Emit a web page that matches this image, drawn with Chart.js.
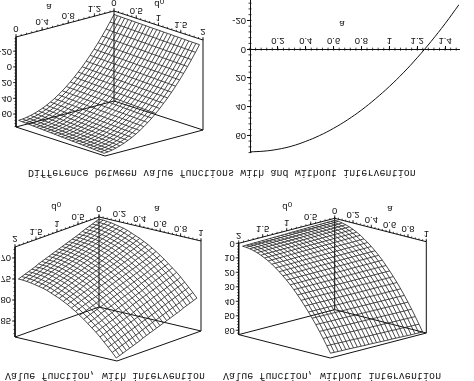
<!DOCTYPE html>
<html>
<head>
<meta charset="utf-8">
<script src="https://cdn.jsdelivr.net/npm/chart.js@4"></script>
<style>
html, body { margin: 0; background: #fff; }
#page { position: relative; width: 474px; height: 381px; overflow: hidden; transform: scaleY(-1); }
#page canvas { position: absolute; }
.cap { position: absolute; font: 10px "Liberation Mono"; letter-spacing: 0.06px; white-space: pre; color: #111; }
</style>
</head>
<body>
<div id="page">
  <canvas id="c1" width="215" height="165" style="left:0;bottom:0"></canvas>
  <canvas id="c2" width="259" height="178" style="left:216px;bottom:-8px"></canvas>
  <canvas id="c3" width="225" height="170" style="left:0;bottom:195px"></canvas>
  <canvas id="c4" width="249" height="170" style="left:225px;bottom:195px"></canvas>
  <div class="cap" style="left:28px;bottom:167px">Difference between value functions with and without intervention</div>
  <div class="cap" style="left:5px;bottom:370px">Value function, with intervention</div>
  <div class="cap" style="left:223px;bottom:370px">Value function, without intervention</div>
</div>
<script>
// curve panel
const curveA = [0, 0.1, 0.2, 0.3, 0.4, 0.5, 0.6, 0.7, 0.8, 0.9, 1, 1.1, 1.2, 1.3, 1.4, 1.5];
const curveZ = [71.5, 71, 69.7, 67.5, 64.2, 60.1, 55.1, 49.2, 42.4, 34.6, 26, 16.5, 6, -5.4, -17.7, -31];
const curveXTicks = [0.2, 0.4, 0.6, 0.8, 1, 1.2, 1.4];
const curveYTicks = [-20, 0, 20, 40, 60];

// surface grids
const aGrid1 = [0.04, 0.101, 0.162, 0.222, 0.283, 0.344, 0.405, 0.466, 0.527, 0.588, 0.648, 0.709, 0.77, 0.831, 0.892, 0.952, 1.013, 1.074, 1.135, 1.196, 1.257, 1.318, 1.378, 1.439, 1.5];
const aGrid2 = [0, 0.04, 0.08, 0.12, 0.16, 0.2, 0.24, 0.28, 0.32, 0.36, 0.4, 0.44, 0.48, 0.52, 0.56, 0.6, 0.64, 0.68, 0.72, 0.76, 0.8, 0.84, 0.88, 0.92, 0.96];
const dGrid = [0, 0.08, 0.16, 0.24, 0.32, 0.4, 0.48, 0.56, 0.64, 0.72, 0.8, 0.88, 0.96, 1.04, 1.12, 1.2, 1.28, 1.36, 1.44, 1.52, 1.6, 1.68, 1.76, 1.84, 1.92];

// rows follow a, columns follow d0
const zDiff = [
  [68.9,69.2,69.4,69.7,70,70.3,70.5,70.8,71.1,71.3,71.6,71.9,72.2,72.4,72.7,73,73.2,73.5,73.8,74,74.3,74.6,74.9,75.1,75.4],
  [68.5,68.8,69,69.3,69.6,69.8,70.1,70.4,70.6,70.9,71.2,71.4,71.7,71.9,72.2,72.5,72.7,73,73.3,73.5,73.8,74.1,74.3,74.6,74.9],
  [67.8,68.1,68.3,68.6,68.8,69.1,69.4,69.6,69.9,70.1,70.4,70.6,70.9,71.2,71.4,71.7,71.9,72.2,72.5,72.7,73,73.2,73.5,73.8,74],
  [66.7,67,67.2,67.5,67.7,68,68.2,68.5,68.7,69,69.2,69.5,69.7,70,70.2,70.5,70.7,71,71.3,71.5,71.8,72,72.3,72.5,72.8],
  [65.3,65.5,65.8,66,66.3,66.5,66.8,67,67.3,67.5,67.8,68,68.3,68.5,68.8,69,69.3,69.5,69.7,70,70.2,70.5,70.7,71,71.2],
  [63.6,63.8,64.1,64.3,64.6,64.8,65,65.3,65.5,65.8,66,66.3,66.5,66.7,67,67.2,67.5,67.7,67.9,68.2,68.4,68.7,68.9,69.1,69.4],
  [61.5,61.7,62,62.2,62.4,62.7,62.9,63.1,63.4,63.6,63.9,64.1,64.3,64.6,64.8,65,65.3,65.5,65.7,66,66.2,66.4,66.7,66.9,67.1],
  [59.1,59.3,59.6,59.8,60,60.2,60.5,60.7,60.9,61.2,61.4,61.6,61.8,62.1,62.3,62.5,62.8,63,63.2,63.5,63.7,63.9,64.1,64.4,64.6],
  [56.3,56.5,56.7,57,57.2,57.4,57.6,57.9,58.1,58.3,58.5,58.8,59,59.2,59.4,59.6,59.9,60.1,60.3,60.5,60.8,61,61.2,61.4,61.7],
  [53.3,53.5,53.7,53.9,54.2,54.4,54.6,54.8,55,55.3,55.5,55.7,55.9,56.1,56.3,56.6,56.8,57,57.2,57.4,57.6,57.9,58.1,58.3,58.5],
  [49.8,50,50.2,50.4,50.6,50.9,51.1,51.3,51.5,51.7,51.9,52.1,52.3,52.5,52.8,53,53.2,53.4,53.6,53.8,54,54.2,54.4,54.7,54.9],
  [46.1,46.3,46.5,46.7,46.9,47.1,47.3,47.5,47.7,47.9,48.2,48.4,48.6,48.8,49,49.2,49.4,49.6,49.8,50,50.2,50.4,50.6,50.8,51],
  [42,42.2,42.4,42.6,42.8,43,43.2,43.4,43.6,43.8,44,44.2,44.4,44.6,44.8,45,45.2,45.4,45.6,45.8,46,46.2,46.4,46.6,46.8],
  [37.5,37.7,37.9,38.1,38.3,38.5,38.7,38.9,39,39.2,39.4,39.6,39.8,40,40.2,40.4,40.6,40.8,41,41.2,41.4,41.6,41.7,41.9,42.1],
  [32.7,32.9,33.1,33.3,33.4,33.6,33.8,34,34.2,34.4,34.6,34.8,34.9,35.1,35.3,35.5,35.7,35.9,36.1,36.3,36.4,36.6,36.8,37,37.2],
  [27.6,27.8,28,28.1,28.3,28.5,28.7,28.9,29,29.2,29.4,29.6,29.8,29.9,30.1,30.3,30.5,30.7,30.9,31,31.2,31.4,31.6,31.8,31.9],
  [22.2,22.4,22.6,22.7,22.9,23.1,23.3,23.4,23.6,23.8,24,24.1,24.3,24.5,24.7,24.8,25,25.2,25.4,25.5,25.7,25.9,26.1,26.2,26.4],
  [16.4,16.6,16.7,16.9,17.1,17.2,17.4,17.6,17.8,17.9,18.1,18.3,18.4,18.6,18.8,18.9,19.1,19.3,19.4,19.6,19.8,20,20.1,20.3,20.5],
  [10.2,10.4,10.5,10.7,10.9,11,11.2,11.3,11.5,11.7,11.8,12,12.2,12.3,12.5,12.6,12.8,13,13.1,13.3,13.5,13.6,13.8,13.9,14.1],
  [3.8,4,4.1,4.3,4.4,4.6,4.7,4.9,5.1,5.2,5.4,5.5,5.7,5.8,6,6.2,6.3,6.5,6.6,6.8,6.9,7.1,7.3,7.4,7.6],
  [-3,-2.8,-2.7,-2.5,-2.4,-2.2,-2.1,-1.9,-1.8,-1.6,-1.5,-1.3,-1.2,-1,-0.9,-0.7,-0.6,-0.4,-0.3,-0.1,0,0.2,0.3,0.5,0.6],
  [-10.2,-10.1,-9.9,-9.8,-9.6,-9.5,-9.3,-9.2,-9,-8.9,-8.8,-8.6,-8.5,-8.3,-8.2,-8,-7.9,-7.7,-7.6,-7.4,-7.3,-7.2,-7,-6.9,-6.7],
  [-17.6,-17.5,-17.3,-17.2,-17,-16.9,-16.8,-16.6,-16.5,-16.3,-16.2,-16.1,-15.9,-15.8,-15.7,-15.5,-15.4,-15.2,-15.1,-15,-14.8,-14.7,-14.5,-14.4,-14.3],
  [-25.4,-25.3,-25.1,-25,-24.9,-24.7,-24.6,-24.5,-24.3,-24.2,-24.1,-24,-23.8,-23.7,-23.5,-23.4,-23.3,-23.1,-23,-22.9,-22.7,-22.6,-22.5,-22.3,-22.2],
  [-33.6,-33.5,-33.3,-33.2,-33.1,-33,-32.8,-32.7,-32.6,-32.5,-32.3,-32.2,-32.1,-32,-31.8,-31.7,-31.6,-31.4,-31.3,-31.2,-31.1,-30.9,-30.8,-30.7,-30.6]
];
const zWith = [
  [67.9,68.2,68.5,68.8,69.1,69.4,69.8,70.1,70.4,70.7,71,71.3,71.6,71.9,72.2,72.5,72.8,73.1,73.4,73.8,74.1,74.4,74.7,75,75.3],
  [67.9,68.2,68.5,68.8,69.2,69.5,69.8,70.1,70.4,70.7,71,71.3,71.6,71.9,72.2,72.5,72.9,73.2,73.5,73.8,74.1,74.4,74.7,75,75.3],
  [68,68.3,68.6,68.9,69.2,69.5,69.8,70.2,70.5,70.8,71.1,71.4,71.7,72,72.3,72.6,72.9,73.2,73.5,73.8,74.2,74.5,74.8,75.1,75.4],
  [68.1,68.4,68.7,69,69.3,69.7,70,70.3,70.6,70.9,71.2,71.5,71.8,72.1,72.4,72.7,73,73.4,73.7,74,74.3,74.6,74.9,75.2,75.5],
  [68.3,68.6,68.9,69.2,69.5,69.8,70.1,70.4,70.7,71,71.4,71.7,72,72.3,72.6,72.9,73.2,73.5,73.8,74.1,74.4,74.7,75.1,75.4,75.7],
  [68.5,68.8,69.1,69.4,69.7,70,70.3,70.6,70.9,71.3,71.6,71.9,72.2,72.5,72.8,73.1,73.4,73.7,74,74.3,74.6,75,75.3,75.6,75.9],
  [68.7,69,69.4,69.7,70,70.3,70.6,70.9,71.2,71.5,71.8,72.1,72.4,72.7,73,73.4,73.7,74,74.3,74.6,74.9,75.2,75.5,75.8,76.1],
  [69,69.3,69.7,70,70.3,70.6,70.9,71.2,71.5,71.8,72.1,72.4,72.7,73,73.3,73.7,74,74.3,74.6,74.9,75.2,75.5,75.8,76.1,76.4],
  [69.4,69.7,70,70.3,70.6,70.9,71.2,71.5,71.8,72.2,72.5,72.8,73.1,73.4,73.7,74,74.3,74.6,74.9,75.2,75.5,75.9,76.2,76.5,76.8],
  [69.8,70.1,70.4,70.7,71,71.3,71.6,71.9,72.2,72.5,72.9,73.2,73.5,73.8,74.1,74.4,74.7,75,75.3,75.6,75.9,76.2,76.6,76.9,77.2],
  [70.2,70.5,70.8,71.1,71.4,71.8,72.1,72.4,72.7,73,73.3,73.6,73.9,74.2,74.5,74.8,75.1,75.5,75.8,76.1,76.4,76.7,77,77.3,77.6],
  [70.7,71,71.3,71.6,71.9,72.2,72.6,72.9,73.2,73.5,73.8,74.1,74.4,74.7,75,75.3,75.6,75.9,76.2,76.6,76.9,77.2,77.5,77.8,78.1],
  [71.2,71.5,71.9,72.2,72.5,72.8,73.1,73.4,73.7,74,74.3,74.6,74.9,75.2,75.5,75.9,76.2,76.5,76.8,77.1,77.4,77.7,78,78.3,78.6],
  [71.8,72.1,72.4,72.7,73,73.3,73.7,74,74.3,74.6,74.9,75.2,75.5,75.8,76.1,76.4,76.7,77,77.3,77.7,78,78.3,78.6,78.9,79.2],
  [72.4,72.7,73.1,73.4,73.7,74,74.3,74.6,74.9,75.2,75.5,75.8,76.1,76.4,76.7,77.1,77.4,77.7,78,78.3,78.6,78.9,79.2,79.5,79.8],
  [73.1,73.4,73.7,74,74.3,74.6,75,75.3,75.6,75.9,76.2,76.5,76.8,77.1,77.4,77.7,78,78.3,78.6,79,79.3,79.6,79.9,80.2,80.5],
  [73.8,74.1,74.4,74.7,75,75.4,75.7,76,76.3,76.6,76.9,77.2,77.5,77.8,78.1,78.4,78.7,79.1,79.4,79.7,80,80.3,80.6,80.9,81.2],
  [74.6,74.9,75.2,75.5,75.8,76.1,76.4,76.7,77,77.4,77.7,78,78.3,78.6,78.9,79.2,79.5,79.8,80.1,80.4,80.7,81.1,81.4,81.7,82],
  [75.4,75.7,76,76.3,76.6,76.9,77.2,77.5,77.8,78.2,78.5,78.8,79.1,79.4,79.7,80,80.3,80.6,80.9,81.2,81.5,81.9,82.2,82.5,82.8],
  [76.2,76.6,76.9,77.2,77.5,77.8,78.1,78.4,78.7,79,79.3,79.6,79.9,80.2,80.6,80.9,81.2,81.5,81.8,82.1,82.4,82.7,83,83.3,83.6],
  [77.1,77.5,77.8,78.1,78.4,78.7,79,79.3,79.6,79.9,80.2,80.5,80.8,81.1,81.5,81.8,82.1,82.4,82.7,83,83.3,83.6,83.9,84.2,84.5],
  [78.1,78.4,78.7,79,79.3,79.6,79.9,80.3,80.6,80.9,81.2,81.5,81.8,82.1,82.4,82.7,83,83.3,83.6,83.9,84.3,84.6,84.9,85.2,85.5],
  [79.1,79.4,79.7,80,80.3,80.6,80.9,81.2,81.5,81.9,82.2,82.5,82.8,83.1,83.4,83.7,84,84.3,84.6,84.9,85.2,85.6,85.9,86.2,86.5],
  [80.1,80.4,80.7,81,81.4,81.7,82,82.3,82.6,82.9,83.2,83.5,83.8,84.1,84.4,84.7,85.1,85.4,85.7,86,86.3,86.6,86.9,87.2,87.5],
  [81.2,81.5,81.8,82.1,82.4,82.8,83.1,83.4,83.7,84,84.3,84.6,84.9,85.2,85.5,85.8,86.1,86.5,86.8,87.1,87.4,87.7,88,88.3,88.6]
];
const zWithout = [
  [1.3,1.4,1.4,1.5,1.5,1.6,1.6,1.7,1.8,1.8,1.9,1.9,2,2.1,2.1,2.2,2.2,2.3,2.4,2.4,2.5,2.5,2.6,2.6,2.7],
  [1.4,1.5,1.5,1.6,1.6,1.7,1.7,1.8,1.9,1.9,2,2,2.1,2.2,2.2,2.3,2.3,2.4,2.5,2.5,2.6,2.6,2.7,2.7,2.8],
  [1.9,2,2,2.1,2.1,2.2,2.2,2.3,2.3,2.4,2.4,2.5,2.6,2.6,2.7,2.7,2.8,2.8,2.9,2.9,3,3,3.1,3.1,3.2],
  [2.5,2.6,2.6,2.7,2.7,2.8,2.8,2.9,2.9,3,3,3.1,3.2,3.2,3.3,3.3,3.4,3.4,3.5,3.5,3.6,3.6,3.7,3.7,3.8],
  [3.3,3.4,3.4,3.5,3.5,3.6,3.6,3.7,3.7,3.8,3.8,3.9,4,4,4.1,4.1,4.2,4.2,4.3,4.3,4.4,4.4,4.5,4.5,4.6],
  [4.4,4.5,4.5,4.6,4.6,4.7,4.7,4.8,4.8,4.9,4.9,5,5.1,5.1,5.2,5.2,5.3,5.3,5.4,5.4,5.5,5.5,5.6,5.6,5.7],
  [5.7,5.8,5.8,5.9,5.9,6,6,6.1,6.1,6.2,6.2,6.3,6.3,6.4,6.4,6.5,6.5,6.6,6.6,6.7,6.7,6.8,6.8,6.9,6.9],
  [7.2,7.2,7.3,7.3,7.4,7.4,7.5,7.5,7.6,7.6,7.7,7.7,7.8,7.8,7.8,7.9,7.9,8,8,8.1,8.1,8.2,8.2,8.3,8.3],
  [9,9,9.1,9.1,9.2,9.2,9.2,9.3,9.3,9.3,9.4,9.4,9.5,9.5,9.5,9.6,9.6,9.6,9.7,9.7,9.8,9.8,9.8,9.9,9.9],
  [10.9,10.9,11,11,11.1,11.1,11.1,11.2,11.2,11.2,11.3,11.3,11.4,11.4,11.4,11.5,11.5,11.5,11.6,11.6,11.7,11.7,11.7,11.8,11.8],
  [13,13,13.1,13.1,13.1,13.2,13.2,13.2,13.3,13.3,13.3,13.4,13.4,13.4,13.5,13.5,13.5,13.6,13.6,13.6,13.7,13.7,13.7,13.8,13.8],
  [15.3,15.3,15.4,15.4,15.4,15.4,15.5,15.5,15.5,15.6,15.6,15.6,15.7,15.7,15.7,15.7,15.8,15.8,15.8,15.9,15.9,15.9,15.9,16,16],
  [17.8,17.8,17.8,17.9,17.9,17.9,17.9,17.9,18,18,18,18,18.1,18.1,18.1,18.1,18.1,18.2,18.2,18.2,18.2,18.2,18.3,18.3,18.3],
  [20.5,20.5,20.5,20.6,20.6,20.6,20.6,20.6,20.6,20.7,20.7,20.7,20.7,20.7,20.7,20.8,20.8,20.8,20.8,20.8,20.8,20.9,20.9,20.9,20.9],
  [23.5,23.5,23.5,23.5,23.5,23.5,23.5,23.5,23.5,23.5,23.5,23.5,23.6,23.6,23.6,23.6,23.6,23.6,23.6,23.6,23.6,23.6,23.6,23.6,23.6],
  [26.6,26.6,26.6,26.6,26.6,26.6,26.6,26.6,26.6,26.6,26.6,26.6,26.6,26.6,26.6,26.6,26.6,26.6,26.6,26.6,26.6,26.6,26.6,26.6,26.6],
  [29.9,29.9,29.9,29.9,29.9,29.9,29.9,29.9,29.8,29.8,29.8,29.8,29.8,29.8,29.8,29.8,29.8,29.7,29.7,29.7,29.7,29.7,29.7,29.7,29.7],
  [33.3,33.3,33.3,33.3,33.2,33.2,33.2,33.2,33.2,33.2,33.2,33.2,33.1,33.1,33.1,33.1,33.1,33.1,33.1,33.1,33,33,33,33,33],
  [37,37,37,36.9,36.9,36.9,36.9,36.9,36.8,36.8,36.8,36.8,36.8,36.7,36.7,36.7,36.7,36.6,36.6,36.6,36.6,36.6,36.5,36.5,36.5],
  [40.9,40.9,40.8,40.8,40.8,40.7,40.7,40.7,40.6,40.6,40.6,40.5,40.5,40.5,40.4,40.4,40.4,40.3,40.3,40.3,40.2,40.2,40.2,40.1,40.1],
  [44.9,44.9,44.8,44.8,44.7,44.7,44.6,44.6,44.6,44.5,44.5,44.4,44.4,44.4,44.3,44.3,44.2,44.2,44.1,44.1,44.1,44,44,43.9,43.9],
  [49.2,49.1,49.1,49,49,48.9,48.9,48.8,48.8,48.7,48.7,48.6,48.6,48.5,48.4,48.4,48.3,48.3,48.2,48.2,48.1,48.1,48,48,47.9],
  [53.6,53.5,53.5,53.4,53.4,53.3,53.2,53.2,53.1,53,53,52.9,52.9,52.8,52.7,52.7,52.6,52.5,52.5,52.4,52.4,52.3,52.2,52.2,52.1],
  [58.2,58.1,58.1,58,57.9,57.8,57.8,57.7,57.6,57.6,57.5,57.4,57.4,57.3,57.2,57.1,57.1,57,56.9,56.9,56.8,56.7,56.6,56.6,56.5],
  [63,62.9,62.8,62.8,62.7,62.6,62.5,62.4,62.3,62.3,62.2,62.1,62,61.9,61.8,61.8,61.7,61.6,61.5,61.4,61.3,61.3,61.2,61.1,61]
];

const labelFont = '9.5px "Liberation Sans"';
const ink = '#111';
const meshInk = '#1a1a1a';

const panels = [
  { id: 'c1', rect: [0, 0, 215, 165], o: [16, 37], aVec: [98, -26], dVec: [89, 29], h: 90,
    aRange: [0, 1.5], dRange: [0, 2], zRange: [-38, 76.5],
    as: aGrid1, ds: dGrid, zs: zDiff,
    left: [0, 0], back: [1.5, 0], right: [1.5, 2], front: [0, 2],
    aMajor: [0, 0.4, 0.8, 1.2], aStep: 0.08, dMajor: [0, 0.5, 1, 1.5, 2], dStep: 0.1,
    zMajor: [-20, 0, 20, 40, 60], zStep: 4, aTitle: [49, 7], dTitle: [157, 4] },
  { id: 'c3', rect: [0, 195, 225, 170], o: [99, 217], aVec: [102, 24], dVec: [-84, 30], h: 90,
    aRange: [0, 1], dRange: [0, 2], zRange: [67.4, 88.8],
    as: aGrid2, ds: dGrid, zs: zWith,
    left: [0, 2], back: [0, 0], right: [1, 0], front: [1, 2],
    aMajor: [0.2, 0.4, 0.6, 0.8, 1], aStep: 0.04, dMajor: [0, 0.5, 1, 1.5, 2], dStep: 0.1,
    zMajor: [70, 75, 80, 85], zStep: 1, aTitle: [157, 209], dTitle: [54, 207] },
  { id: 'c4', rect: [225, 195, 249, 170], o: [334.7, 218.3], aVec: [91.6, 23.4], dVec: [-96, 25], h: 91.3,
    aRange: [0, 1], dRange: [0, 2], zRange: [0, 63],
    as: aGrid2, ds: dGrid, zs: zWithout,
    left: [0, 2], back: [0, 0], right: [1, 0], front: [1, 2],
    aMajor: [0.2, 0.4, 0.6, 0.8, 1], aStep: 0.04, dMajor: [0, 0.5, 1, 1.5, 2], dStep: 0.1,
    zMajor: [0, 10, 20, 30, 40, 50, 60], zStep: 2, aTitle: [390, 209], dTitle: [285, 207] }
];

function project(p, a, d, z) {
  const ta = (a - p.aRange[0]) / (p.aRange[1] - p.aRange[0]);
  const td = (d - p.dRange[0]) / (p.dRange[1] - p.dRange[0]);
  const tz = (z - p.zRange[0]) / (p.zRange[1] - p.zRange[0]);
  return { x: p.o[0] + ta * p.aVec[0] + td * p.dVec[0], y: p.o[1] + ta * p.aVec[1] + td * p.dVec[1] + tz * p.h };
}

function lineSet(points, width, color) {
  return { data: points, showLine: true, pointRadius: 0, borderWidth: width, borderColor: color, tension: 0 };
}

function surfaceDatasets(p) {
  const sets = [];
  p.as.forEach((a, i) => sets.push(lineSet(p.ds.map((d, j) => project(p, a, d, p.zs[i][j])), 0.8, meshInk)));
  p.ds.forEach((d, j) => sets.push(lineSet(p.as.map((a, i) => project(p, a, d, p.zs[i][j])), 0.8, meshInk)));
  const top = p.zRange[0], bot = p.zRange[1];
  const corner = (c, z) => project(p, c[0], c[1], z);
  sets.push(lineSet([corner(p.left, bot), corner(p.left, top), corner(p.back, top), corner(p.right, top), corner(p.right, bot)], 1, ink));
  sets.push(lineSet([corner(p.left, bot), corner(p.back, bot), corner(p.right, bot), corner(p.front, bot), corner(p.left, bot)], 1, ink));
  sets.push(lineSet([corner(p.back, top), corner(p.back, bot)], 1, ink));
  return sets;
}

// ticks and labels along the box edges, positions go through the chart scales
function axisPlugin(p) {
  return {
    id: 'axes3d',
    afterDraw(chart) {
      const ctx = chart.ctx, sx = chart.scales.x, sy = chart.scales.y;
      const tick = (q, dx, dy) => {
        ctx.beginPath();
        ctx.moveTo(sx.getPixelForValue(q.x), sy.getPixelForValue(q.y));
        ctx.lineTo(sx.getPixelForValue(q.x + dx), sy.getPixelForValue(q.y + dy));
        ctx.stroke();
      };
      const text = (s, x, y) => ctx.fillText(s, sx.getPixelForValue(x), sy.getPixelForValue(y));
      ctx.save();
      ctx.strokeStyle = ink; ctx.fillStyle = ink; ctx.lineWidth = 0.8;
      ctx.font = labelFont; ctx.textAlign = 'center'; ctx.textBaseline = 'middle';
      const top = p.zRange[0];
      const aAt = p.back[1], dAt = p.back[0];
      for (let v = p.aRange[0]; v <= p.aRange[1] + 1e-6; v += p.aStep) tick(project(p, v, aAt, top), 0, -1.5);
      for (let v = p.dRange[0]; v <= p.dRange[1] + 1e-6; v += p.dStep) tick(project(p, dAt, v, top), 0, -1.5);
      p.aMajor.forEach(v => { const q = project(p, v, aAt, top); tick(q, 0, -3); text(String(v), q.x, q.y - 8); });
      p.dMajor.forEach(v => { const q = project(p, dAt, v, top); tick(q, 0, -3); text(String(v), q.x, q.y - 8); });
      for (let v = Math.ceil(top / p.zStep) * p.zStep; v <= p.zRange[1]; v += p.zStep) tick(project(p, p.left[0], p.left[1], v), -1.5, 0);
      ctx.textAlign = 'right';
      p.zMajor.forEach(v => { const q = project(p, p.left[0], p.left[1], v); tick(q, -3, 0); text(String(v), q.x - 4, q.y); });
      ctx.textAlign = 'center';
      text('a', p.aTitle[0], p.aTitle[1]);
      text('d', p.dTitle[0], p.dTitle[1]);
      ctx.font = '8px "Liberation Sans"';
      text('0', p.dTitle[0] + 5, p.dTitle[1] - 3);
      ctx.restore();
    }
  };
}

panels.forEach(p => {
  new Chart(document.getElementById(p.id), {
    type: 'scatter',
    data: { datasets: surfaceDatasets(p) },
    plugins: [axisPlugin(p)],
    options: {
      responsive: false, animation: false, events: [],
      layout: { padding: 0 },
      plugins: { legend: { display: false }, tooltip: { enabled: false } },
      scales: {
        x: { display: false, min: p.rect[0], max: p.rect[0] + p.rect[2] },
        y: { display: false, min: p.rect[1], max: p.rect[1] + p.rect[3] }
      }
    }
  });
});

// two dimensional panel
new Chart(document.getElementById('c2'), {
  type: 'line',
  data: { datasets: [{ data: curveA.map((a, i) => ({ x: a, y: curveZ[i] })), borderColor: ink, borderWidth: 1, pointRadius: 0, tension: 0.4 }] },
  plugins: [{
    id: 'minorTicks',
    afterDraw(chart) {
      const ctx = chart.ctx, sx = chart.scales.x, sy = chart.scales.y;
      ctx.save();
      ctx.strokeStyle = ink; ctx.fillStyle = ink; ctx.lineWidth = 0.8;
      const y0 = sy.getPixelForValue(0), x0 = sx.getPixelForValue(0);
      ctx.beginPath();
      for (let v = 0; v <= 1.5; v += 0.04) { const x = sx.getPixelForValue(v); ctx.moveTo(x, y0 - 1.5); ctx.lineTo(x, y0 + 1.5); }
      for (let v = -32; v <= 72; v += 4) { const y = sy.getPixelForValue(v); ctx.moveTo(x0 - 1.5, y); ctx.lineTo(x0 + 1.5, y); }
      ctx.stroke();
      ctx.font = labelFont; ctx.textAlign = 'center'; ctx.textBaseline = 'middle';
      ctx.fillText('a', sx.getPixelForValue(0.66), sy.getPixelForValue(-17.5));
      ctx.restore();
    }
  }],
  options: {
    responsive: false, animation: false, events: [],
    layout: { padding: { top: 17, right: 16, bottom: 0, left: 0 } },
    plugins: { legend: { display: false }, tooltip: { enabled: false } },
    scales: {
      x: {
        type: 'linear', position: { y: 0 }, min: 0, max: 1.5,
        afterBuildTicks: s => { s.ticks = curveXTicks.map(v => ({ value: v })); },
        border: { color: ink, width: 1 },
        grid: { drawOnChartArea: false, color: ink, tickLength: 3 },
        ticks: { color: ink, font: { family: 'Liberation Sans', size: 9.5 }, padding: 0, maxRotation: 0, autoSkip: false, callback: v => String(v) }
      },
      y: {
        min: -35.1, max: 72.3,
        afterBuildTicks: s => { s.ticks = curveYTicks.map(v => ({ value: v })); },
        afterFit: s => { s.width = 34; },
        border: { color: ink, width: 1 },
        grid: { drawOnChartArea: false, color: ink, tickLength: 3 },
        ticks: { color: ink, font: { family: 'Liberation Sans', size: 9.5 }, padding: 1 }
      }
    }
  }
});
</script>
</body>
</html>
